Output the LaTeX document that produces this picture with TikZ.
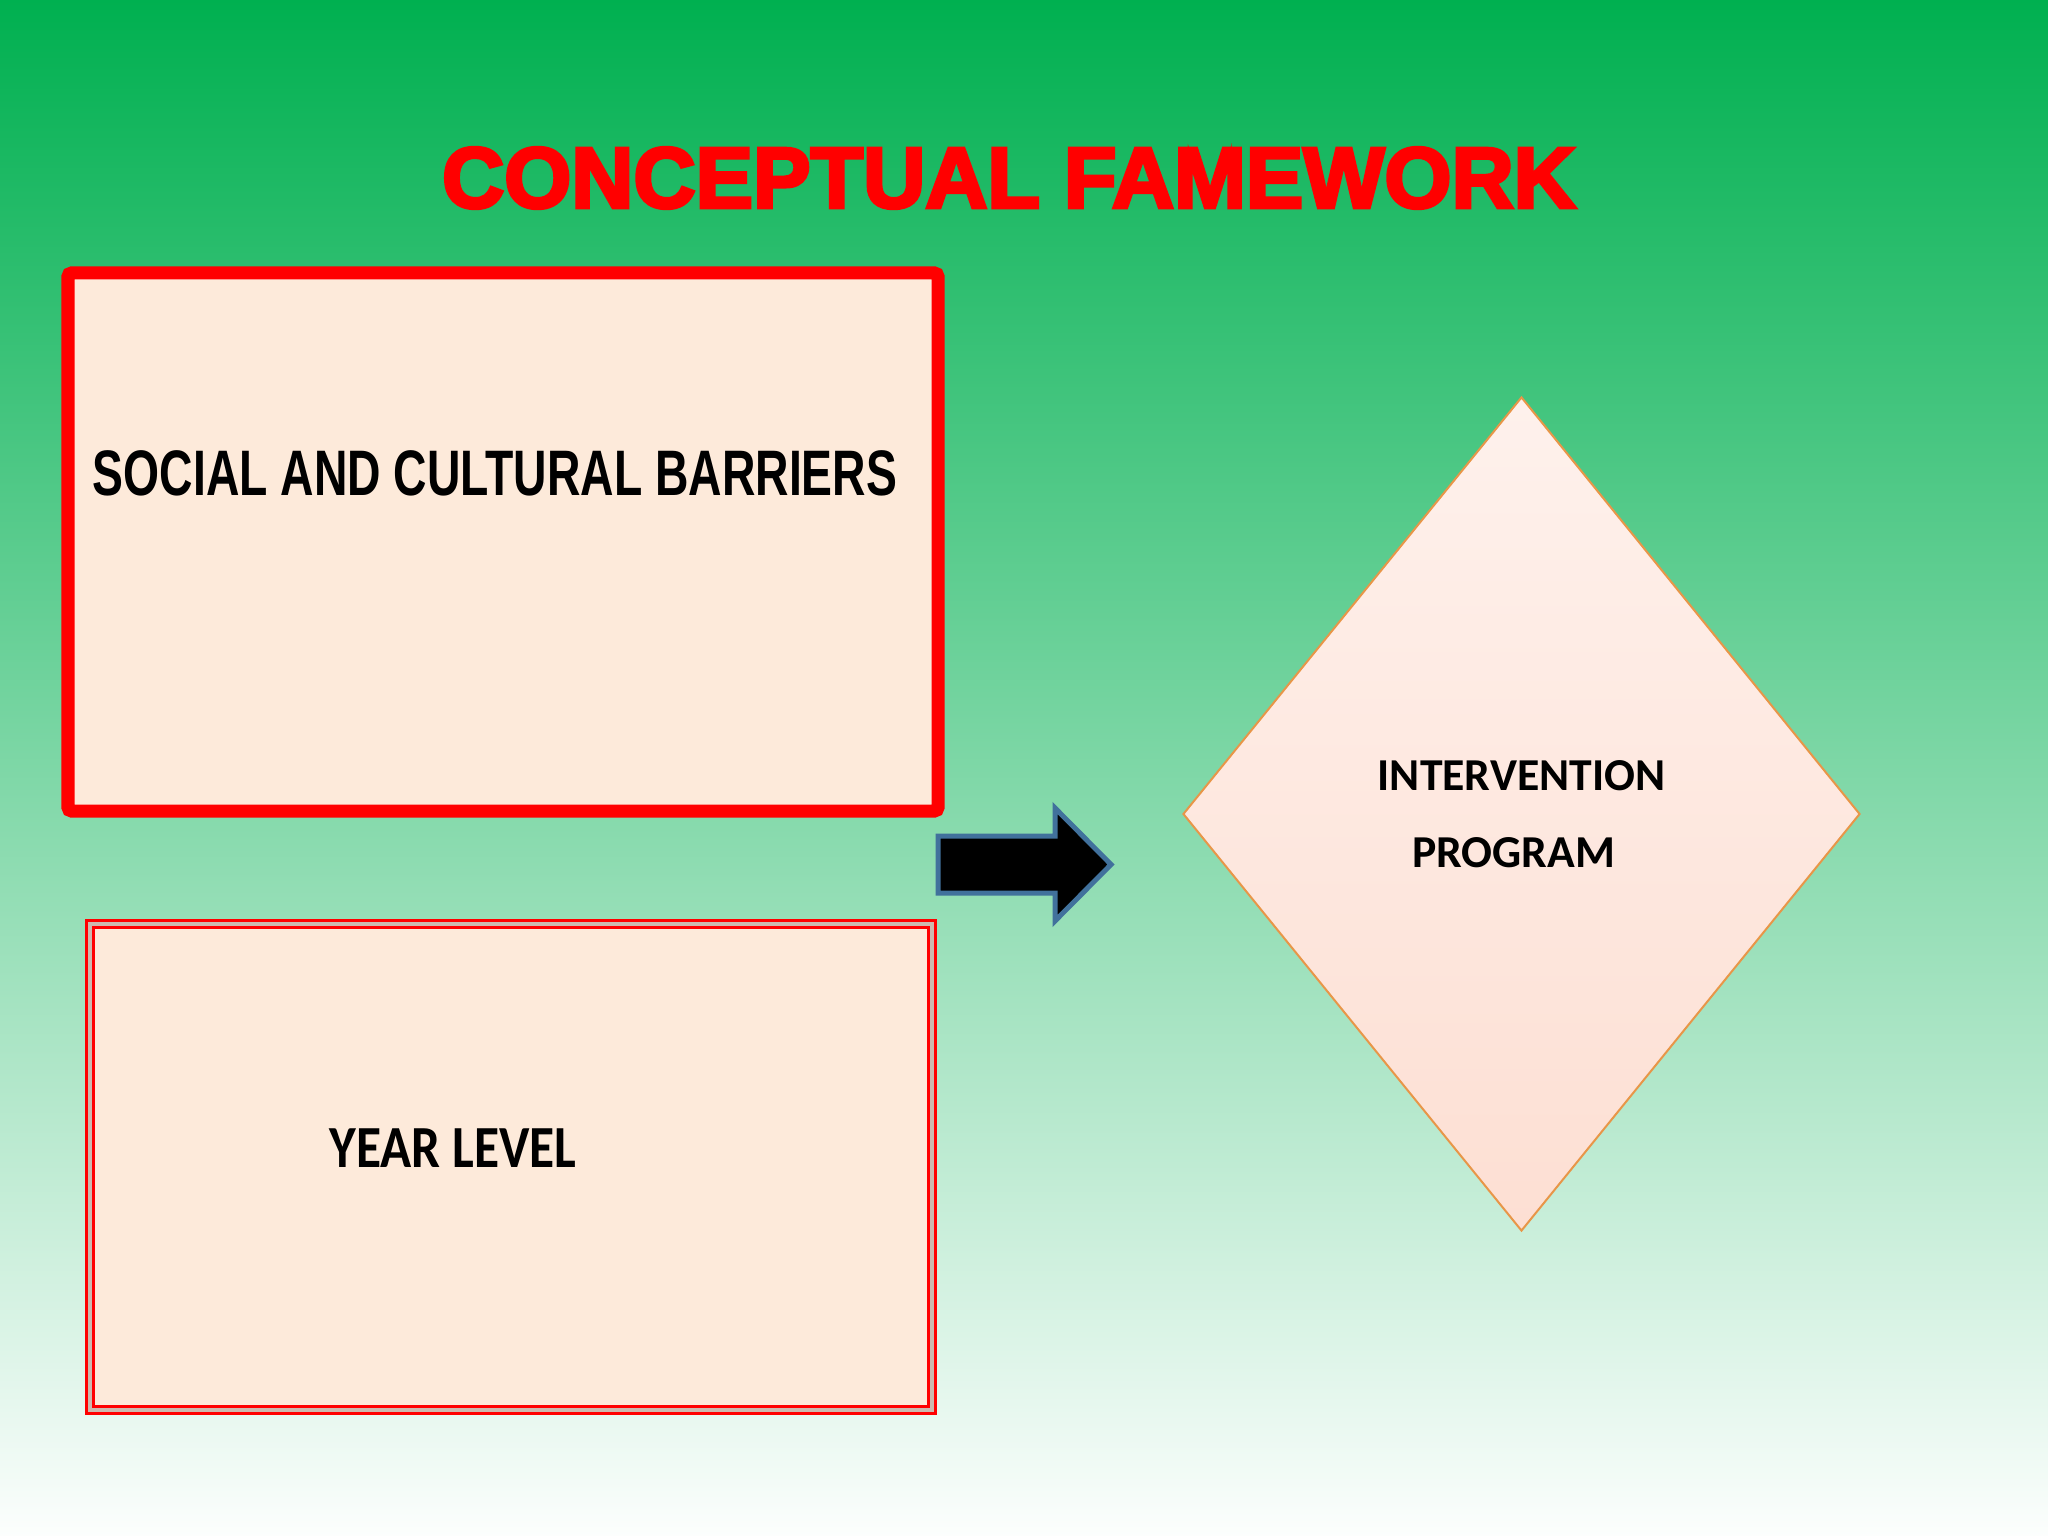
\documentclass[tikz,border=0pt]{standalone}
\usepackage{fontspec}
\usepackage{xcolor}
\usetikzlibrary{positioning, shapes.geometric}

\newfontfamily\titlefont[FakeBold=4]{Liberation Sans Bold}
\newfontfamily\narrowfont[FakeStretch=0.72]{Liberation Sans Bold}
\newfontfamily\latofont{Carlito}
\newfontfamily\latonarrow[FakeStretch=0.86]{Carlito}

\definecolor{bggreen}{RGB}{0,176,80}
\definecolor{bgwhite}{RGB}{252,254,253}
\definecolor{boxfill}{RGB}{253,234,218}
\definecolor{boxred}{RGB}{255,0,0}
\definecolor{gapgray}{RGB}{205,185,175}
\definecolor{diatop}{RGB}{254,241,236}
\definecolor{diabot}{RGB}{253,223,211}
\definecolor{diaedge}{RGB}{232,150,72}
\definecolor{arrowedge}{RGB}{65,113,156}

\begin{document}
\begin{tikzpicture}[
  node distance=0.1cm,
  titletext/.style={text=boxred, font=\titlefont\fontsize{24.5}{30}\selectfont, inner sep=0pt},
  bigbox/.style={draw=boxred, line width=0.13cm, fill=boxfill, rounded corners=1pt, minimum width=8.7cm, minimum height=5.38cm, inner sep=0pt},
  framebox/.style={draw=boxred, double=gapgray, line width=0.03cm, double distance=0.035cm, fill=boxfill, minimum width=8.42cm, minimum height=4.86cm, inner sep=0pt},
  decision/.style={diamond, draw=diaedge, line width=0.02cm, top color=diatop, bottom color=diabot, minimum width=6.77cm, minimum height=8.34cm, inner sep=0pt, align=center, font=\latofont\bfseries\fontsize{13}{21.9}\selectfont},
  blockarrow/.style={fill=black, draw=arrowedge, line width=0.05cm},
  boxtext/.style={inner sep=0pt, text=black}
]
  % background
  \useasboundingbox (0,0) rectangle (20.48,-15.36);
  \shade[top color=bggreen, bottom color=bgwhite] (0,0) rectangle (20.48,-15.36);

  \node[titletext] (title) at (10.09,-1.78) {CONCEPTUAL FAMEWORK};

  \node[bigbox] (social) at (5.03,-5.42) {};
  \node[boxtext, font=\narrowfont\fontsize{18.3}{22}\selectfont] (socialtxt) at ([xshift=-0.08cm, yshift=0.69cm]social.center) {SOCIAL AND CULTURAL BARRIERS};

  \node[framebox] (year) at (5.11,-11.67) {};
  \node[boxtext, font=\latonarrow\bfseries\fontsize{17}{20}\selectfont] (yeartxt) at ([xshift=-0.58cm, yshift=0.19cm]year.center) {YEAR LEVEL};

  \node[decision] (program) at (15.215,-8.14) {INTERVENTION\\PROGRAM\hspace*{0.16cm}};

  % block arrow
  \coordinate (tail) at (9.38,-8.645);
  \filldraw[blockarrow] ([yshift=0.285cm]tail) -- ++(1.17,0) -- ++(0,0.28) -- ++(0.56,-0.565)
    -- ++(-0.56,-0.565) -- ++(0,0.28) -- ++(-1.17,0) -- cycle;
\end{tikzpicture}
\end{document}
